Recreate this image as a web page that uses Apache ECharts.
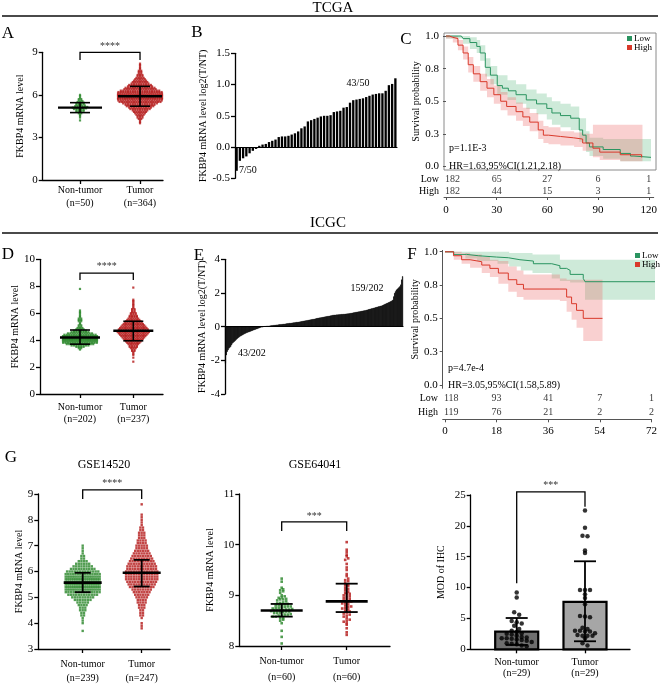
<!DOCTYPE html>
<html>
<head>
<meta charset="utf-8">
<script src="https://cdn.jsdelivr.net/npm/echarts@6/dist/echarts.min.js"></script>
<style>
html, body { margin: 0; padding: 0; background: #fff; }
#chart { width: 660px; height: 685px; }
</style>
</head>
<body>
<div id="chart"></div>
<script>
// ---------- data ----------
// A: TCGA FKBP4 expression
var labelsA = ['Non-tumor\n(n=50)', 'Tumor\n(n=364)'];
var nonTumorA = [4.2,4.4,4.5,4.6,4.7,4.7,4.8,4.8,4.8,4.85,4.9,4.9,4.9,4.95,5.0,5.0,5.0,5.0,5.05,5.05,
  5.1,5.1,5.1,5.1,5.1,5.15,5.15,5.2,5.2,5.2,5.2,5.25,5.3,5.3,5.3,5.35,5.4,5.4,5.4,5.45,
  5.5,5.5,5.55,5.6,5.6,5.7,5.7,5.8,5.9,6.0];
// tumor cloud: number of points per 0.1 step, starting at 4.0
var tumorAStart = 4.0;
var tumorACounts = [1,1,1,2,3,3,4,5,6,7,9,10,12,13,15,18,19,20,21,22,22,21,19,17,14,13,11,10,8,7,6,5,4,3,3,2,2,2,1,1,1,1,1];
var meanA = [5.1, 5.9], sdLowA = [4.75, 5.2], sdHighA = [5.45, 6.6];

// B: TCGA paired log2(T/NT)
var pairedB = [-0.38,-0.22,-0.18,-0.15,-0.10,-0.06,-0.03,0.02,0.04,0.05,0.08,0.10,0.12,0.16,0.17,0.17,0.18,0.20,0.22,0.25,
  0.30,0.33,0.41,0.43,0.45,0.47,0.49,0.50,0.50,0.51,0.56,0.57,0.58,0.63,0.64,0.71,0.75,0.76,0.77,0.78,
  0.80,0.82,0.84,0.85,0.86,0.86,0.90,0.99,1.01,1.10];

// C: TCGA survival (months, probability) and 95% CI (months, lower, upper)
var kmLowC = [[0,1],[9,1],[10,0.98],[14,0.95],[18,0.92],[20,0.87],[23,0.76],[26,0.70],[30,0.62],[33,0.60],[36.5,0.58],
  [41,0.55],[47,0.51],[53,0.48],[59,0.445],[62,0.41],[67,0.39],[73,0.37],[78,0.28],[80,0.24],[82,0.18],[84,0.15],
  [92,0.13],[102,0.10],[108,0.08],[110,0.07],[120,0.07]];
var kmHighC = [[0,1],[2,0.99],[4,0.98],[7,0.93],[10,0.87],[13,0.78],[16,0.71],[20,0.65],[24,0.60],[28,0.55],[32,0.50],
  [35.5,0.46],[41,0.42],[45,0.38],[49,0.34],[54,0.28],[57,0.24],[60,0.23],[67,0.22],[74.5,0.21],[80,0.18],[86,0.14],
  [90,0.11],[102,0.09],[114.5,0.07]];
var ciLowC = [[0,0.98,1],[10,0.94,1],[14,0.90,0.99],[18,0.87,0.97],[20,0.81,0.93],[23,0.69,0.83],[26,0.63,0.77],[30,0.55,0.70],
  [36,0.51,0.66],[41,0.48,0.63],[47,0.44,0.59],[53,0.40,0.56],[59,0.36,0.53],[62,0.32,0.50],[67,0.30,0.48],[73,0.28,0.46],
  [78,0.19,0.37],[82,0.11,0.27],[84,0.08,0.22],[92,0.06,0.21],[102,0.04,0.21],[120,0.04,0.21]];
var ciHighC = [[0,0.98,1],[4,0.95,1],[7,0.89,0.97],[10,0.82,0.92],[13,0.72,0.84],[16,0.65,0.77],[20,0.58,0.71],[24,0.53,0.67],
  [28,0.48,0.62],[32,0.43,0.57],[36,0.39,0.53],[41,0.35,0.49],[45,0.31,0.45],[49,0.27,0.41],[54,0.21,0.35],[57,0.18,0.31],
  [60,0.17,0.30],[67,0.16,0.27],[75,0.15,0.26],[80,0.12,0.25],[86,0.07,0.32],[90,0.05,0.32],[102,0.04,0.32],[115,0.04,0.32]];
var riskTimesC = [0, 30, 60, 90, 120];
var riskLowC = [182, 65, 27, 6, 1];
var riskHighC = [182, 44, 15, 3, 1];

// D: ICGC expression
var labelsD = ['Non-tumor\n(n=202)', 'Tumor\n(n=237)'];
var nonTumorDStart = 3.3;
var nonTumorDCounts = [1,2,4,8,12,15,18,20,20,20,17,14,11,8,6,4,3,2,2,1,1,2,2,2,1,1,1,1,1,1,
  0,0,0,0,0,0,0,0,0,0,0,0,0,0,0,1];
var tumorDStart = 2.4;
var tumorDCounts = [1,0,0,1,0,1,1,1,2,2,3,4,4,5,6,7,8,9,10,11,12,13,14,13,13,12,11,10,9,8,7,6,5,4,4,3,3,2,2,2,
  1,1,1,1,1,1,1,0,0,0,0,0,0,0,0,1];
var meanD = [4.2, 4.7], sdLowD = [3.7, 3.95], sdHighD = [4.75, 5.4];

// E: ICGC paired log2(T/NT)
var pairedE = [-2.2,-1.7,-1.5,-1.4,-1.3,-1.25,-1.2,-1.1,-1.0,-0.95,-0.9,-0.85,-0.8,-0.75,-0.7,-0.66,-0.62,-0.58,-0.55,-0.52,
  -0.49,-0.46,-0.43,-0.41,-0.38,-0.36,-0.34,-0.32,-0.3,-0.28,-0.26,-0.24,-0.22,-0.2,-0.18,-0.16,-0.14,-0.12,-0.1,-0.08,
  -0.06,-0.04,-0.02,
  0.01,0.02,0.02,0.03,0.04,0.05,0.05,0.06,0.07,0.08,0.08,0.09,0.1,0.1,0.11,0.12,0.12,0.13,0.14,0.14,0.15,0.15,
  0.16,0.17,0.17,0.18,0.19,0.2,0.2,0.21,0.22,0.22,0.23,0.24,0.25,0.25,0.26,0.27,0.28,0.28,0.29,0.3,
  0.31,0.32,0.33,0.34,0.35,0.36,0.37,0.38,0.39,0.4,0.41,0.42,0.43,0.44,0.45,0.46,0.47,0.48,0.5,
  0.51,0.52,0.53,0.54,0.55,0.56,0.57,0.58,0.59,0.6,0.61,0.62,0.63,0.64,0.65,0.66,0.67,0.68,0.7,
  0.7,0.71,0.71,0.72,0.72,0.73,0.73,0.74,0.74,0.75,0.75,0.76,0.76,0.77,0.77,0.78,0.78,0.79,0.8,
  0.81,0.82,0.83,0.84,0.85,0.86,0.87,0.88,0.89,0.9,0.91,0.92,0.93,0.94,0.95,0.96,0.97,0.98,1.0,
  1.01,1.03,1.04,1.06,1.07,1.09,1.1,1.12,1.13,1.15,1.16,1.18,1.19,1.21,1.22,1.24,1.25,1.27,1.3,
  1.32,1.35,1.37,1.4,1.42,1.45,1.47,1.5,1.52,1.55,
  1.6,1.8,2.0,2.1,2.2,2.25,2.3,2.35,2.4,2.5,2.8,3.0];

// F: ICGC survival
var kmLowF = [[0,1],[3,0.98],[7.4,0.97],[11.4,0.96],[17.7,0.955],[21.7,0.94],[25.7,0.93],[30.3,0.91],[36.6,0.895],
  [39.4,0.875],[41.7,0.86],[42.9,0.83],[47.4,0.80],[48,0.775],[72,0.775]];
var kmHighF = [[0,1],[2.9,0.97],[5.7,0.94],[8.6,0.925],[12.6,0.90],[15.4,0.875],[18.3,0.84],[21.7,0.79],[24.6,0.755],
  [26.9,0.72],[39.4,0.72],[41.7,0.66],[43.4,0.61],[45.1,0.56],[47.4,0.50],[54,0.50]];
var ciLowF = [[0,0.99,1],[7,0.95,1],[11,0.93,1],[18,0.91,1],[22,0.89,0.99],[26,0.86,0.99],[30,0.84,0.98],[36.6,0.80,0.98],
  [39.4,0.78,0.94],[42.9,0.77,0.94],[48,0.64,0.94],[72,0.64,0.94]];
var ciHighF = [[0,0.99,1],[3,0.94,1],[5.7,0.91,0.99],[8.6,0.88,0.98],[12.6,0.84,0.96],[15.4,0.81,0.94],[18.3,0.76,0.93],
  [21.7,0.70,0.89],[24.6,0.66,0.86],[26.9,0.64,0.83],[39.4,0.63,0.80],[41.7,0.55,0.79],[43.4,0.49,0.79],[45.1,0.43,0.79],
  [47.4,0.33,0.79],[54,0.33,0.79]];
var riskTimesF = [0, 18, 36, 54, 72];
var riskLowF = [118, 93, 41, 7, 1];
var riskHighF = [119, 76, 21, 2, 2];

// G: GSE14520
var labelsG1 = ['Non-tumor\n(n=239)', 'Tumor\n(n=247)'];
var nonTumorG1Start = 3.7;
var nonTumorG1Counts = [1,0,0,1,1,1,2,2,3,3,4,5,7,9,12,14,17,19,19,19,19,17,15,13,10,8,6,4,2,2,1,1,1,1];
var tumorG1Start = 3.8;
var tumorG1Counts = [1,1,1,0,1,2,2,2,3,3,4,4,5,6,7,8,10,11,12,13,13,13,13,12,12,11,10,9,8,7,6,5,5,4,4,3,3,3,2,2,
  1,1,1,1,1,0,0,0,1];
var meanG1 = [5.57, 5.95], sdLowG1 = [5.2, 5.42], sdHighG1 = [5.95, 6.45];

// G: GSE64041
var labelsG2 = ['Non-tumor\n(n=60)', 'Tumor\n(n=60)'];
var nonTumorG2 = [8.05,8.18,8.3,8.45,8.5,8.52,8.55,8.55,8.58,8.58,8.6,8.6,8.62,8.62,8.63,8.65,8.65,8.66,8.67,8.68,
  8.68,8.69,8.7,8.7,8.7,8.71,8.72,8.72,8.73,8.74,8.75,8.75,8.76,8.77,8.78,8.78,8.8,8.8,8.81,8.82,
  8.83,8.84,8.85,8.86,8.88,8.9,8.92,8.92,8.93,8.95,8.96,8.98,9.0,9.05,9.08,9.1,9.12,9.15,9.27,9.33];
var tumorG2 = [8.22,8.27,8.35,8.42,8.45,8.48,8.5,8.52,8.55,8.58,8.6,8.62,8.64,8.66,8.68,8.7,8.72,8.74,8.75,8.77,
  8.78,8.8,8.82,8.84,8.85,8.87,8.88,8.9,8.92,8.93,8.95,8.97,8.98,9.0,9.02,9.03,9.05,9.07,9.1,9.12,
  9.15,9.18,9.2,9.22,9.25,9.28,9.3,9.33,9.38,9.42,9.5,9.55,9.62,9.7,9.73,9.77,9.8,9.85,9.9,10.05];
var meanG2 = [8.7, 8.88], sdLowG2 = [8.58, 8.67], sdHighG2 = [8.83, 9.23];

// G: IHC
var labelsG3 = ['Non-tumor\n(n=29)', 'Tumor\n(n=29)'];
var nonTumorIHC = [9.2,8.4,6.0,5.6,4.6,4.4,4.2,3.8,3.3,3.0,2.8,2.6,2.5,2.4,2.2,2.0,1.9,1.8,1.8,1.7,1.6,1.5,1.4,1.2,1.0,0.9,0.8,0.6,0.5];
var tumorIHC = [22.5,19.7,18.4,18.3,16.0,15.6,9.6,9.6,9.6,8.9,8.3,7.3,5.4,5.3,5.2,3.5,3.3,3.0,3.0,2.9,2.9,2.6,2.3,2.2,2.2,2.2,1.8,1.0,0.6];
var meanIHC = [2.85, 7.67], sdLowIHC = [0.7, 1.3], sdHighIHC = [5.07, 14.26];

// ---------- layout ----------
var FONT = '"Liberation Serif", "Times New Roman", serif';
var GREEN = '#278527', RED = '#b31515';
var KM_GREEN = '#2a9460', KM_RED = '#d9392b';
var BAND_GREEN = 'rgba(80,180,120,0.28)', BAND_RED = 'rgba(235,110,110,0.32)';

var grids = [
  { left: 42.7, top: 52.3, width: 120.3, height: 127.7 },   // 0 A
  { left: 235, top: 53.3, width: 162, height: 125 },        // 1 B
  { left: 444, top: 33, width: 212, height: 137, show: true, borderColor: '#8a8a8a', borderWidth: 1 }, // 2 C
  { left: 444, top: 173, width: 212, height: 24 },          // 3 C risk table
  { left: 40, top: 259.3, width: 123, height: 134.7 },      // 4 D
  { left: 225, top: 259.3, width: 178, height: 134.7 },     // 5 E
  { left: 442.7, top: 250.4, width: 212.3, height: 137.9 }, // 6 F
  { left: 442.7, top: 391.3, width: 212.3, height: 28 },    // 7 F risk table
  { left: 38.3, top: 494, width: 131.7, height: 155 },      // 8 GSE14520
  { left: 239.3, top: 494, width: 150.7, height: 155 },     // 9 GSE64041
  { left: 470.7, top: 495, width: 159.3, height: 154.3 }    // 10 IHC
];
var xr = { A: [0.378, 2.383], C: [-1.17, 122.93], D: [0.25, 2.557], F: [-0.79, 72], G1: [0.2475, 2.48], G2: [0.348, 2.666], G3: [0.3265, 2.659] };
var yr = { A: [0, 9], B: [-0.5, 1.5], C: [-0.027, 1.023], D: [0, 10], E: [-4, 4], F: [-0.025, 1.01], G1: [3, 9], G2: [8, 11], G3: [0, 25] };

function expand(start, counts) {
  var out = [];
  counts.forEach(function (c, i) {
    for (var k = 0; k < c; k++) out.push(+(start + i * 0.1).toFixed(2));
  });
  return out;
}

// beeswarm: points in the same row are spread sideways around the group centre
function swarm(values, cx, g, xrange, yrange, binPx, stepPx, halfPx) {
  var ppx = g.width / (xrange[1] - xrange[0]);
  var ppy = g.height / (yrange[1] - yrange[0]);
  var rows = {};
  values.forEach(function (v) {
    var k = Math.round(v * ppy / binPx);
    (rows[k] = rows[k] || []).push(v);
  });
  var pts = [];
  Object.keys(rows).forEach(function (k) {
    var r = rows[k], n = r.length;
    var sp = n > 1 ? Math.min(stepPx, 2 * halfPx / (n - 1)) : 0;
    r.forEach(function (v, i) {
      pts.push([cx + (i - (n - 1) / 2) * sp / ppx, v]);
    });
  });
  return pts;
}

function yValue(gi, range, interval, name, nameGap, fmt, extra) {
  var ax = {
    type: 'value', gridIndex: gi, min: range[0], max: range[1], interval: interval,
    axisLine: { show: true, onZero: false, lineStyle: { color: '#000', width: 1.3 } },
    axisTick: { show: true, length: 4, lineStyle: { color: '#000', width: 1.3 } },
    axisLabel: { color: '#000', fontFamily: FONT, fontSize: 11, margin: 5, formatter: fmt },
    splitLine: { show: false },
    name: name, nameLocation: 'middle', nameGap: nameGap, nameRotate: 90,
    nameTextStyle: { color: '#000', fontFamily: FONT, fontSize: 10 }
  };
  if (extra) Object.keys(extra).forEach(function (k) { ax[k] = extra[k]; });
  return ax;
}

function xGroups(gi, range, labels, margin, lh) {
  return {
    type: 'value', gridIndex: gi, min: range[0], max: range[1],
    axisLine: { show: true, onZero: false, lineStyle: { color: '#000', width: 1.3 } },
    axisTick: { show: true, length: 4, customValues: [1, 2], lineStyle: { color: '#000', width: 1.3 } },
    axisLabel: { color: '#000', fontFamily: FONT, fontSize: 10, lineHeight: lh, margin: margin, customValues: [1, 2],
      formatter: function (v) { return labels[Math.round(v) - 1]; } },
    splitLine: { show: false }
  };
}

function xTime(gi, range, ticks, margin) {
  return {
    type: 'value', gridIndex: gi, min: range[0], max: range[1], position: 'bottom',
    axisLine: { show: true, onZero: false, lineStyle: { color: '#555', width: 1 } },
    axisTick: { show: true, length: 3, customValues: ticks, lineStyle: { color: '#555' } },
    axisLabel: { color: '#000', fontFamily: FONT, fontSize: 11, margin: margin, customValues: ticks },
    splitLine: { show: false }
  };
}

function xHidden(gi, range) {
  return { type: 'value', gridIndex: gi, min: range[0], max: range[1], show: false };
}

function xBars(gi, n) {
  var cats = [];
  for (var i = 0; i < n; i++) cats.push(i + 1);
  return {
    type: 'category', gridIndex: gi, data: cats,
    axisLine: { show: true, onZero: true, lineStyle: { color: '#000', width: 1.2 } },
    axisTick: { show: false }, axisLabel: { show: false }
  };
}

// risk-table rows; the row names are drawn as text beside the table
function yRisk(gi) {
  return {
    type: 'category', gridIndex: gi, data: ['High', 'Low'],
    axisLine: { show: false }, axisTick: { show: false }, axisLabel: { show: false }
  };
}

function dots(gi, pts, color, size, symbol) {
  return { type: 'scatter', xAxisIndex: gi, yAxisIndex: gi, data: pts, symbol: symbol || 'rect',
    symbolSize: size, itemStyle: { color: color }, silent: true, z: 3 };
}

function meanSd(gi, means, lows, highs, halfMean, halfCap, wMean, wSd) {
  return {
    type: 'custom', xAxisIndex: gi, yAxisIndex: gi, z: 6, silent: true,
    data: means.map(function (m, i) { return [i + 1, m, lows[i], highs[i]]; }),
    renderItem: function (params, api) {
      var x = api.value(0);
      var c = api.coord([x, api.value(1)]);
      var lo = api.coord([x, api.value(2)]);
      var hi = api.coord([x, api.value(3)]);
      var st = { stroke: '#000', lineWidth: wSd };
      var kids = [
        { type: 'line', shape: { x1: lo[0], y1: lo[1], x2: hi[0], y2: hi[1] }, style: st },
        { type: 'line', shape: { x1: lo[0] - halfCap, y1: lo[1], x2: lo[0] + halfCap, y2: lo[1] }, style: st },
        { type: 'line', shape: { x1: hi[0] - halfCap, y1: hi[1], x2: hi[0] + halfCap, y2: hi[1] }, style: st }
      ];
      if (halfMean > 0) kids.push({ type: 'line', shape: { x1: c[0] - halfMean, y1: c[1], x2: c[0] + halfMean, y2: c[1] }, style: { stroke: '#000', lineWidth: wMean } });
      return { type: 'group', children: kids };
    }
  };
}

function bracket(gi, legL, legR, top, stars, gap) {
  return {
    type: 'custom', xAxisIndex: gi, yAxisIndex: gi, z: 6, silent: true, clip: false,
    data: [[1, top, legL, legR]],
    renderItem: function (params, api) {
      var t = api.value(1);
      var a = api.coord([1, api.value(2)]), b = api.coord([1, t]);
      var c = api.coord([2, t]), d = api.coord([2, api.value(3)]);
      return { type: 'group', children: [
        { type: 'polyline', shape: { points: [a, b, c, d] }, style: { stroke: '#000', lineWidth: 1.3, fill: 'none' } },
        { type: 'text', x: (b[0] + c[0]) / 2, y: b[1] - gap,
          style: { text: stars, font: '10px ' + FONT, fill: '#333', align: 'center', verticalAlign: 'middle' } }
      ] };
    }
  };
}

function kmLine(gi, name, pts, color) {
  return { type: 'line', name: name, xAxisIndex: gi, yAxisIndex: gi, data: pts, step: 'end',
    showSymbol: false, lineStyle: { color: color, width: 1 }, itemStyle: { color: color }, silent: true, z: 4 };
}

function ciBand(gi, rows, color) {
  return {
    type: 'custom', xAxisIndex: gi, yAxisIndex: gi, silent: true, z: 2,
    data: [[rows[0][0], rows[0][2]]],
    renderItem: function (params, api) {
      var up = [], dn = [];
      for (var i = 0; i < rows.length; i++) {
        var t = rows[i][0], tn = i < rows.length - 1 ? rows[i + 1][0] : t;
        up.push(api.coord([t, rows[i][2]]), api.coord([tn, rows[i][2]]));
        dn.push(api.coord([t, rows[i][1]]), api.coord([tn, rows[i][1]]));
      }
      return { type: 'polygon', shape: { points: up.concat(dn.reverse()) }, style: { fill: color } };
    }
  };
}

function riskRow(gi, row, times, counts) {
  return {
    type: 'scatter', xAxisIndex: gi, yAxisIndex: gi, symbolSize: 1, silent: true,
    itemStyle: { color: 'rgba(0,0,0,0)' },
    data: times.map(function (t, i) {
      var d = { value: [t, row, counts[i]] };
      if (i === 0) d.label = { align: 'left', offset: [-1, 0] };
      return d;
    }),
    label: { show: true, position: 'inside', color: '#000', fontFamily: FONT, fontSize: 10,
      formatter: function (p) { return p.value[2]; } }
  };
}

function ihcBars(gi, means, fills, half) {
  return {
    type: 'custom', xAxisIndex: gi, yAxisIndex: gi, z: 2, silent: true,
    data: means.map(function (m, i) { return [i + 1, m]; }),
    renderItem: function (params, api) {
      var x = api.value(0);
      var a = api.coord([x - half, api.value(1)]), b = api.coord([x + half, 0]);
      return { type: 'rect', shape: { x: a[0], y: a[1], width: b[0] - a[0], height: b[1] - a[1] },
        style: { fill: fills[params.dataIndex], stroke: '#000', lineWidth: 2.2 } };
    }
  };
}

function txt(x, y, s, size, align) {
  return { type: 'text', x: x, y: y, z: 100, silent: true,
    style: { text: s, font: size + 'px ' + FONT, fill: '#000', align: align || 'center', verticalAlign: 'middle' } };
}

var fmt1 = function (v) { return v.toFixed(1); };
var survTicks = [0, 0.25, 0.5, 0.75, 1];

var xAxes = [
  xGroups(0, xr.A, labelsA, 4, 13),
  xBars(1, pairedB.length),
  xHidden(2, xr.C),
  xTime(3, xr.C, riskTimesC, 8),
  xGroups(4, xr.D, labelsD, 7, 12),
  xBars(5, pairedE.length),
  xHidden(6, xr.F),
  xTime(7, xr.F, riskTimesF, 6),
  xGroups(8, xr.G1, labelsG1, 8, 14),
  xGroups(9, xr.G2, labelsG2, 7, 16),
  xGroups(10, xr.G3, labelsG3, 8, 11)
];

var yAxes = [
  yValue(0, yr.A, 3, 'FKBP4 mRNA level', 17),
  yValue(1, yr.B, 0.5, 'FKBP4 mRNA level log2(T/NT)', 23, fmt1),
  yValue(2, yr.C, null, 'Survival probability', 17.5, fmt1, {
    axisLine: { show: false },
    axisTick: { show: true, length: 3, customValues: survTicks, lineStyle: { color: '#555' } },
    axisLabel: { color: '#000', fontFamily: FONT, fontSize: 11, margin: 5, customValues: survTicks, formatter: fmt1 }
  }),
  yRisk(3),
  yValue(4, yr.D, 2, 'FKBP4 mRNA level', 14.5),
  yValue(5, yr.E, 2, 'FKBP4 mRNA level log2(T/NT)', 15),
  yValue(6, yr.F, null, 'Survival probability', 20.5, fmt1, {
    axisLine: { show: true, onZero: false, lineStyle: { color: '#555', width: 1 } },
    axisTick: { show: true, length: 3, customValues: survTicks, lineStyle: { color: '#555' } },
    axisLabel: { color: '#000', fontFamily: FONT, fontSize: 11, margin: 5, customValues: survTicks, formatter: fmt1 }
  }),
  yRisk(7),
  yValue(8, yr.G1, 1, 'FKBP4 mRNA level', 12),
  yValue(9, yr.G2, 1, 'FKBP4 mRNA level', 23.8),
  yValue(10, yr.G3, 5, 'MOD of IHC', 24.5)
];

var series = [
  // A
  dots(0, swarm(nonTumorA, 1, grids[0], xr.A, yr.A, 1.4, 2.4, 12), GREEN, 2.2),
  dots(0, swarm(expand(tumorAStart, tumorACounts), 2, grids[0], xr.A, yr.A, 1.0, 2.4, 22), RED, 2.2),
  meanSd(0, meanA, sdLowA, sdHighA, 22, 10, 2.4, 1.6),
  bracket(0, 8.46, 8.46, 9.0, '****', 6),
  // B
  { type: 'bar', xAxisIndex: 1, yAxisIndex: 1, data: pairedB, barCategoryGap: '28%',
    itemStyle: { color: '#000' }, silent: true },
  // C
  ciBand(2, ciLowC, BAND_GREEN),
  ciBand(2, ciHighC, BAND_RED),
  kmLine(2, 'Low', kmLowC, KM_GREEN),
  kmLine(2, 'High', kmHighC, KM_RED),
  riskRow(3, 'Low', riskTimesC, riskLowC),
  riskRow(3, 'High', riskTimesC, riskHighC),
  // D
  dots(4, swarm(expand(nonTumorDStart, nonTumorDCounts), 1, grids[4], xr.D, yr.D, 1.0, 2.4, 17), GREEN, 2.2),
  dots(4, swarm(expand(tumorDStart, tumorDCounts), 2, grids[4], xr.D, yr.D, 1.0, 2.4, 17), RED, 2.2),
  meanSd(4, meanD, sdLowD, sdHighD, 20, 10, 2.4, 1.6),
  bracket(4, 8.46, 8.46, 8.98, '****', 7),
  // E
  { type: 'bar', xAxisIndex: 5, yAxisIndex: 5, data: pairedE, barCategoryGap: '0%',
    itemStyle: { color: '#000', borderColor: '#000', borderWidth: 0.6 }, silent: true },
  // F
  ciBand(6, ciLowF, BAND_GREEN),
  ciBand(6, ciHighF, BAND_RED),
  kmLine(6, 'Low', kmLowF, KM_GREEN),
  kmLine(6, 'High', kmHighF, KM_RED),
  riskRow(7, 'Low', riskTimesF, riskLowF),
  riskRow(7, 'High', riskTimesF, riskHighF),
  // G GSE14520
  dots(8, swarm(expand(nonTumorG1Start, nonTumorG1Counts), 1, grids[8], xr.G1, yr.G1, 2.0, 2.6, 17), GREEN, 2.4),
  dots(8, swarm(expand(tumorG1Start, tumorG1Counts), 2, grids[8], xr.G1, yr.G1, 2.0, 2.6, 17), RED, 2.4),
  meanSd(8, meanG1, sdLowG1, sdHighG1, 19, 8, 2.6, 1.8),
  bracket(8, 8.81, 8.81, 9.16, '****', 6),
  // G GSE64041
  dots(9, swarm(nonTumorG2, 1, grids[9], xr.G2, yr.G2, 2.6, 3.0, 11), GREEN, 2.6),
  dots(9, swarm(tumorG2, 2, grids[9], xr.G2, yr.G2, 2.6, 3.0, 13), RED, 2.6),
  meanSd(9, meanG2, sdLowG2, sdHighG2, 21, 11, 2.6, 1.8),
  bracket(9, 10.27, 10.27, 10.45, '***', 5),
  // G IHC
  ihcBars(10, meanIHC, ['#6e6e6e', '#a6a6a6'], 0.315),
  dots(10, swarm(nonTumorIHC, 1, grids[10], xr.G3, yr.G3, 4.5, 5, 30), '#000', 4.5, 'circle'),
  dots(10, swarm(tumorIHC, 2, grids[10], xr.G3, yr.G3, 4.5, 5, 30), '#000', 4.5, 'circle'),
  meanSd(10, meanIHC, sdLowIHC, sdHighIHC, 0, 11, 0, 1.8),
  bracket(10, 10.7, 23.1, 25.5, '***', 7)
];

function kmLegend(left, top) {
  return {
    orient: 'vertical', left: left, top: top, padding: 0, itemGap: 0,
    itemWidth: 5, itemHeight: 5, icon: 'rect', selectedMode: false,
    data: ['Low', 'High'],
    textStyle: { color: '#000', fontFamily: FONT, fontSize: 9, lineHeight: 8, padding: [0, 0, 0, -3] }
  };
}

var graphics = [
  { type: 'line', silent: true, shape: { x1: 2, y1: 16, x2: 658, y2: 16 }, style: { stroke: '#4a4a4a', lineWidth: 2 } },
  { type: 'line', silent: true, shape: { x1: 2, y1: 233, x2: 658, y2: 233 }, style: { stroke: '#4a4a4a', lineWidth: 2 } },
  txt(333, 8, 'TCGA', 15),
  txt(328, 223, 'ICGC', 15),
  txt(8, 34, 'A', 17), txt(197, 33, 'B', 17), txt(406, 40, 'C', 17),
  txt(8, 255, 'D', 17), txt(199, 256, 'E', 17), txt(412, 255, 'F', 17),
  txt(11, 458, 'G', 17),
  txt(104, 465, 'GSE14520', 12),
  txt(315, 465, 'GSE64041', 12),
  txt(358, 83, '43/50', 10),
  txt(239, 170, '7/50', 10, 'left'),
  txt(367, 288, '159/202', 10),
  txt(238, 353, '43/202', 10, 'left'),
  txt(449, 148, 'p=1.1E-3', 10, 'left'),
  txt(449, 166, 'HR=1.63,95%CI(1.21,2.18)', 10, 'left'),
  txt(448, 368, 'p=4.7e-4', 10, 'left'),
  txt(448, 385, 'HR=3.05,95%CI(1.58,5.89)', 10, 'left'),
  // risk-table row names
  txt(439, 179.5, 'Low', 10, 'right'),
  txt(439, 191.5, 'High', 10, 'right'),
  txt(438, 398.3, 'Low', 10, 'right'),
  txt(438, 412.3, 'High', 10, 'right')
];

var myChart = echarts.init(document.getElementById('chart'), null, { renderer: 'canvas' });
myChart.setOption({
  animation: false,
  backgroundColor: '#fff',
  grid: grids,
  xAxis: xAxes,
  yAxis: yAxes,
  legend: [kmLegend(627, 34), kmLegend(635, 251)],
  graphic: graphics,
  series: series
});
</script>
</body>
</html>
